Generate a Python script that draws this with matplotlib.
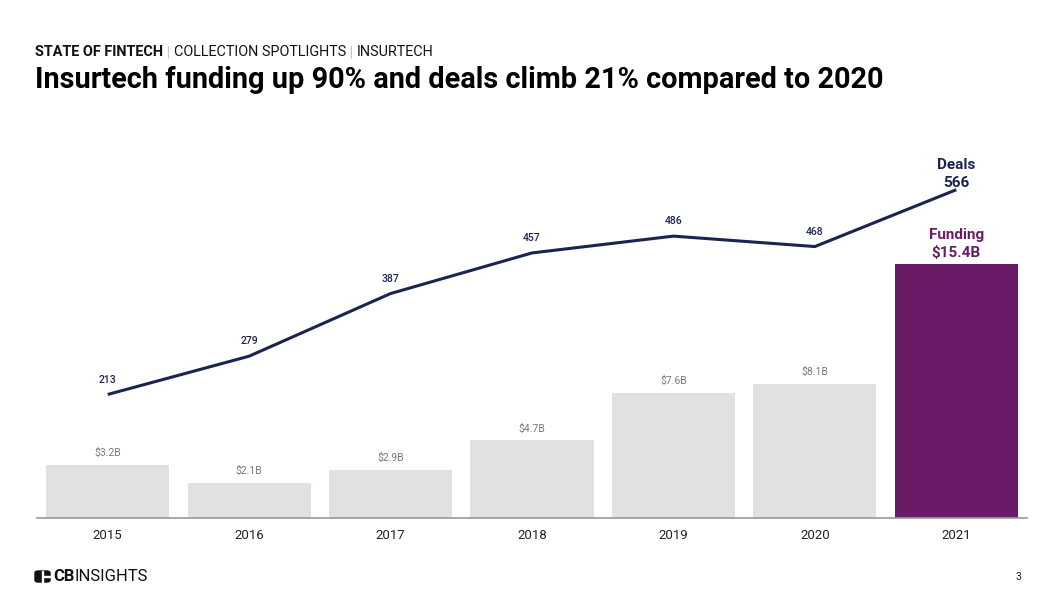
import matplotlib
matplotlib.use("Agg")
import matplotlib.pyplot as plt
from matplotlib.patches import FancyBboxPatch, Rectangle

plt.rcParams['font.family'] = ['Roboto', 'DejaVu Sans']

years = ['2015', '2016', '2017', '2018', '2019', '2020', '2021']
funding = [3.2, 2.1, 2.9, 4.7, 7.6, 8.1, 15.4]
funding_labels = ['$3.2B', '$2.1B', '$2.9B', '$4.7B', '$7.6B', '$8.1B', '$15.4B']
deals = [213, 279, 387, 457, 486, 468, 566]

GRAY = '#E2E0E1'
PURPLE = '#6A1B68'
NAVY = '#1B2450'

W, H = 1045, 604
fig = plt.figure(figsize=(W/100, H/100), dpi=100)
ax = fig.add_axes([37/W, 86/H, 990/W, 378/H])
ax2 = ax.twinx()

x = list(range(len(years)))
colors = [GRAY]*(len(years)-1) + [PURPLE]
ax.bar(x, funding, width=0.87, color=colors, zorder=1)
ax.set_xlim(-0.5, 6.5)
ax.set_ylim(0, 378/16.5)
ax2.set_ylim(0, 378/0.58)

for i in range(len(years)-1):
    ax.annotate(funding_labels[i], (x[i], funding[i]), xytext=(0, 5), textcoords='offset points',
                ha='center', va='bottom', fontsize=7.5, color='#7A7A7A')

ax2.plot(x, deals, color=NAVY, lw=2.2, zorder=3, solid_capstyle='butt')
for i in range(len(years)-1):
    ax2.annotate(str(deals[i]), (x[i], deals[i]), xytext=(0, 7), textcoords='offset points',
                 ha='center', va='bottom', fontsize=7.5, fontweight='medium', color=NAVY)

ax2.annotate('Deals\n' + str(deals[-1]), (x[-1], deals[-1]), xytext=(0, 0), textcoords='offset points',
             ha='center', va='bottom', fontsize=11, fontweight='bold', color=NAVY, linespacing=1.35)
ax.annotate('Funding\n' + funding_labels[-1], (x[-1], funding[-1]), xytext=(0, 3), textcoords='offset points',
            ha='center', va='bottom', fontsize=11, fontweight='bold', color=PURPLE, linespacing=1.3)

for a in (ax, ax2):
    for s in ['top', 'right', 'left']:
        a.spines[s].set_visible(False)
    a.set_yticks([])
ax2.spines['bottom'].set_visible(False)
ax.spines['bottom'].set_color('#999999')
ax.spines['bottom'].set_linewidth(1.2)
ax.set_xticks(x)
ax.set_xticklabels(years, fontsize=9.5, color='#222222', fontweight='normal')
ax.tick_params(axis='x', length=0, pad=8)

# Header
fig.canvas.draw()
r = fig.canvas.get_renderer()
parts = [('STATE OF FINTECH', 'bold', '#111111'), (' | ', 'normal', '#BBBBBB'),
         ('COLLECTION SPOTLIGHTS', 'normal', '#111111'), (' | ', 'normal', '#BBBBBB'),
         ('INSURTECH', 'normal', '#111111')]
xp = 35/W
for txt, wt, c in parts:
    t = fig.text(xp, 1 - 52/H, txt, fontsize=10.4, fontweight=wt, color=c, va='center', ha='left')
    bb = t.get_window_extent(r)
    xp += bb.width / W

fig.text(35/W, 1 - 80.5/H, 'Insurtech funding up 90% and deals climb 21% compared to 2020',
         fontsize=20.8, fontweight='bold', color='#000000', va='center', ha='left')

# Logo
fig.patches.append(FancyBboxPatch((35/W, 1 - 582/H), 15/W, 11/H, boxstyle='round,pad=0,rounding_size=0.003',
                                  transform=fig.transFigure, color='#111111'))
fig.patches.append(Rectangle((41.5/W, 1 - 582/H), 1.8/W, 11/H, transform=fig.transFigure, color='white'))
fig.patches.append(Rectangle((42.5/W, 1 - 577.3/H), 7.5/W, 1.8/H, transform=fig.transFigure, color='white'))
t1 = fig.text(53/W, 1 - 576.5/H, 'CB', fontsize=12, fontweight='bold', color='#111111', va='center', ha='left')
bb = t1.get_window_extent(r)
fig.text(53/W + bb.width/W, 1 - 576.5/H, 'INSIGHTS', fontsize=12, fontweight='normal', color='#111111', va='center', ha='left')

fig.text(1015/W, 1 - 577/H, '3', fontsize=7.5, color='#222222', va='center', ha='left')

fig.savefig('out.png', dpi=100)
